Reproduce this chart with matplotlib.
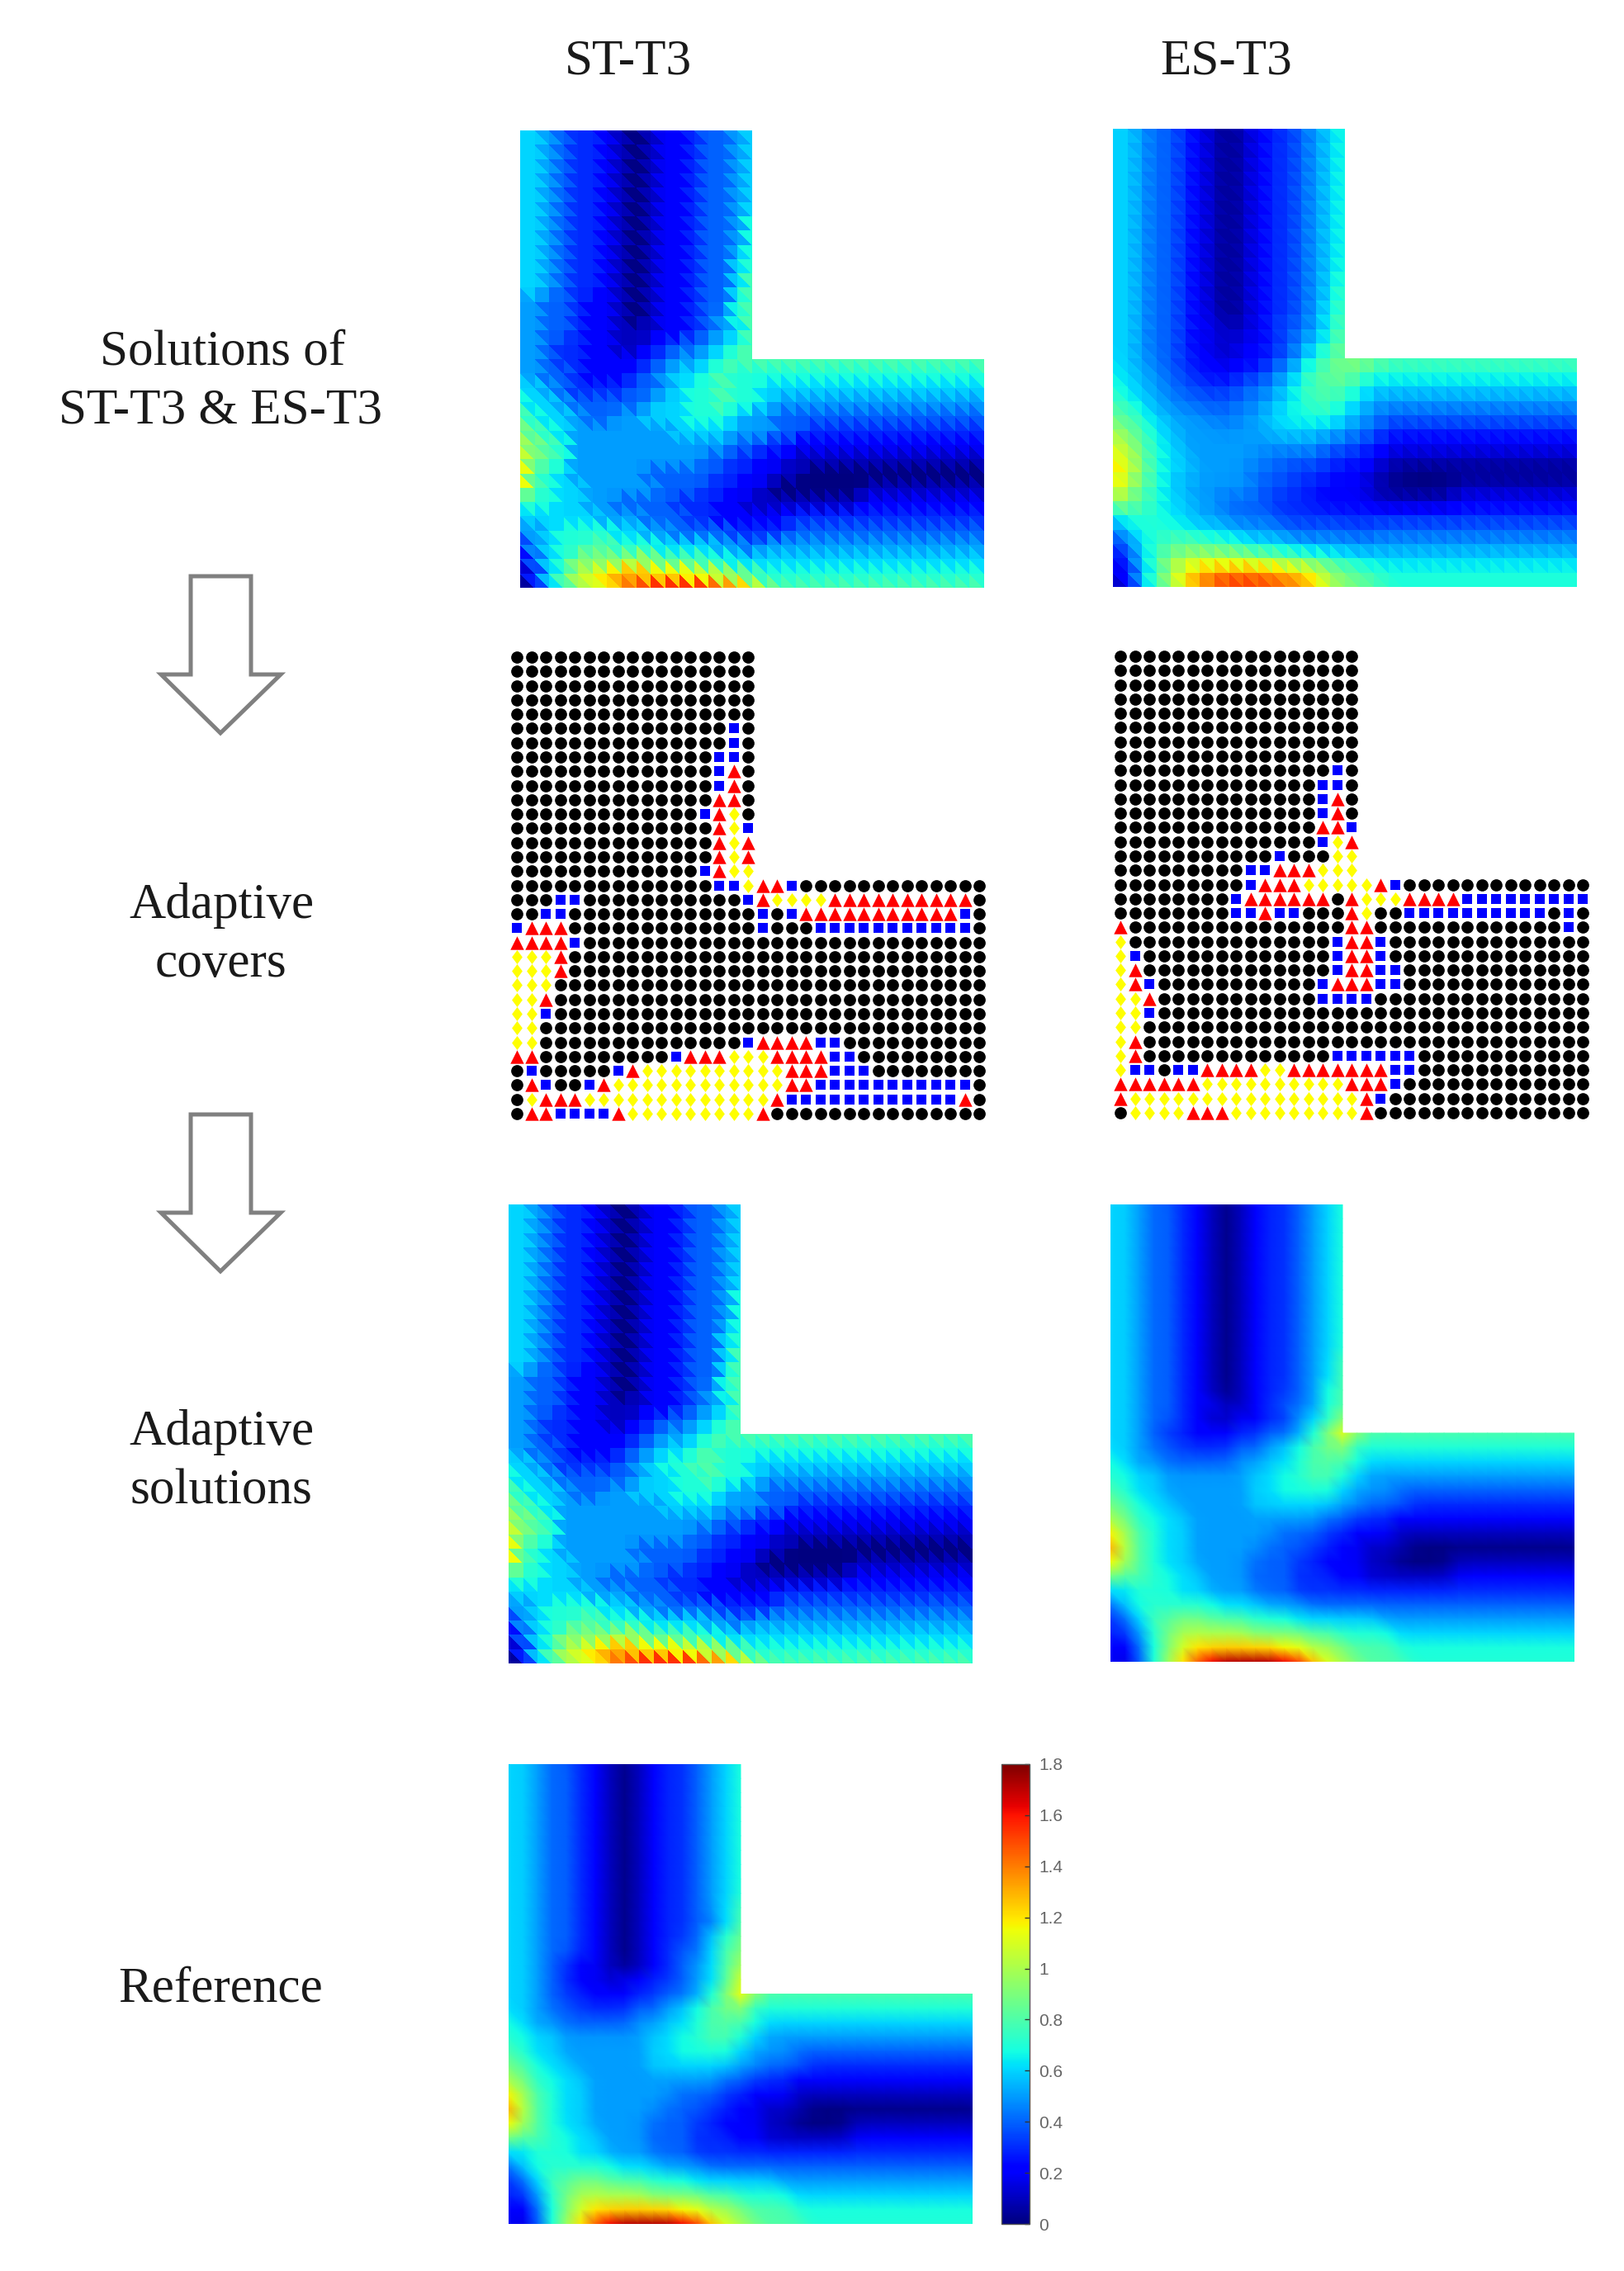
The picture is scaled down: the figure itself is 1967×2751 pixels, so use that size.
#!/usr/bin/env python3
"""L-shaped domain solutions: ST-T3 / ES-T3, adaptive covers and reference."""

import numpy as np
import matplotlib
matplotlib.use("Agg")
import matplotlib.pyplot as plt
from matplotlib.cm import ScalarMappable
from matplotlib.colors import Normalize
from matplotlib.patches import Polygon
from matplotlib.path import Path
from matplotlib.tri import Triangulation

# ---------------------------------------------------------------------
# Data: node values on the 33 x 33 L-shaped grid, row 0 is the top.
# One character per node, 0-9 = 0.0-0.9 and a-i = 1.0-1.8
# ---------------------------------------------------------------------
st_field = [
    "66543321012234456", "66543321012234456", "66543321012234456",
    "66543321012234456", "66543321012234456", "66543321012234456",
    "66543321012234457", "66543321012234457", "66543321012234457",
    "66543321012234467", "66543321012234468", "66543321012234468",
    "55443221012234478", "55443221012234578", "55443221112234568",
    "55433221123445678",
    "55433222234556788" + "8888888888888888",
    "55443222345667877" + "7777777777777777",
    "66543333445677877" + "6666666666666666",
    "76654444456677877" + "6555555555555555",
    "87665445566677765" + "5444444444444444",
    "98765555555666655" + "5443333333333333",
    "a9875555555555544" + "3322222222222222",
    "b9875555555554433" + "2211111111111111",
    "c8765555544444332" + "2110000000000000",
    "c8766555554443322" + "1000000111111111",
    "87766554444333221" + "1111111222222222",
    "66666655544433222" + "2233333333333333",
    "55677776655444433" + "3344444444444444",
    "35677887776666554" + "5555555555555555",
    "24679999a98887766" + "6666666666666666",
    "1368abcddcccbba98" + "7777777777777777",
    "0368abcefggggfedb" + "9888888888888888",
]

es_field = [
    "66544321012334567", "66544321012334567", "66544321012334567",
    "66544321012334567", "66544321012334567", "66544321012334567",
    "66544321012334567", "66544321012334567", "66544321012334567",
    "66544321012334567", "66544321012334567", "66544321012334568",
    "66544321012334568", "66544321012334578", "66544322112344578",
    "66544321122335679",
    "66544322122345789" + "a988888888888888",
    "76554332233457899" + "8777777777777777",
    "76654433344567888" + "7666666666666666",
    "87655444445567887" + "6555555555555555",
    "88765554455677776" + "5544444444444444",
    "a9866555555666665" + "5433333333333333",
    "ba876555555555544" + "3322222222222222",
    "cb976655555444433" + "3211111111111111",
    "db976655554443332" + "2110000000000000",
    "ca876555554433322" + "2100000111111111",
    "a9876655444333222" + "2111111222222222",
    "67776655444433333" + "3333333333333333",
    "46777766655544444" + "3444444444444444",
    "34678888776665555" + "5555555555555555",
    "23689aaaaa9988877" + "6666666666666666",
    "1267acdeeeeeddca9" + "8877777777777777",
    "0268acefgggffeca9" + "9877777777777777",
]

ref_field = [
    "66544321012334567", "66544321012334567", "66544321012334567",
    "66544321012334567", "66544321012334567", "66544321012334567",
    "66544321012334567", "66544321012334567", "66544321012334567",
    "66544321012334567", "66544321012334568", "66544321012334468",
    "66544321012334679", "66544321012344689", "6654322101234568a",
    "6654322122334568b",
    "6654332223344579d" + "9888888888888888",
    "66544333344567899" + "7777777777777777",
    "76554444455667888" + "7666666666666666",
    "77665555556677887" + "6555555555555555",
    "87665555556677776" + "5554444444444444",
    "98766555556666665" + "5444333333333333",
    "a9776655555555544" + "3332222222222222",
    "ca876655555544433" + "2221111111111111",
    "ea876655555444332" + "2111000000000000",
    "ca876655554443322" + "2110000111111111",
    "98877665554443332" + "2111111222222222",
    "66777665554443333" + "3333333333333333",
    "46777777666555444" + "4444444444444444",
    "34688998887776666" + "6655555555555555",
    "33579aaaaa9999887" + "7776666666666666",
    "22479bccccccbbaa9" + "8887777777777777",
    "2147acfhiiiihgdba" + "9888777777777777",
]

adapt_st_field = list(st_field)
adapt_st_field[18] = "66543333456778877" + "6666666666666666"

adapt_es_field = es_field[:16] + ref_field[16:]

# Node types of the adaptive covers: . regular, r, y, b
st_cover = [
    ".................", ".................", ".................",
    ".................", ".................", "...............b.",
    "...............b.", "..............bb.", "..............br.",
    "..............br.", "..............rr.", ".............bry.",
    "..............ryb", "..............ryr", "..............ryr",
    ".............bryy",
    "..............bbyrrb",
    "...bb...........bryyyyrrrrrrrrrr.",
    "..bb.............b.brrrrrrrrrrrb.",
    "brrr.............b...bbbbbbbbbbb.",
    "rrrrb", "yyyr", "yyyr", "yyy", "yyr", "yyb", "yy",
    "yy..............brrrrbb",
    "rr.........brrryyyrrrrbb",
    ".b.....bryyyyyyyyyyrrrbbb",
    ".rb..bryyyyyyyyyyyyrrbbbbbbbbbbb",
    ".yrrryyyyyyyyyyyyyrbbbbbbbbbbbbr",
    ".rrbbbbryyyyyyyyyr",
]

es_cover = [
    ".................", ".................", ".................",
    ".................", ".................", ".................",
    ".................", ".................", "...............b.",
    "..............bb.", "..............br.", "..............br.",
    "..............rrb", "..............byr", "...........b...yy",
    ".........bbrrryyy",
    ".........brrryyyyyrb",
    "........brrrrrr.ryyyrrrrbbbbbbbbb",
    "........bbrbb...ry..bbbbbbbbbb.b.",
    "r...............rr.............b.",
    "y..............brrb",
    "yb.............brrb",
    "yr.............brrbb",
    "yrb...........brrrbb",
    "yyr...........bbbb",
    "yyb", "yy", "yr",
    "yr.............bbbbbb",
    "ybb.bbrrrryyrrrrrrrbb",
    "rrrrrryyyyyyyyyyrrrb",
    "ryyyyyyyyyyyyyyyyrb",
    ".yyyyrrryyyyyyyyyr",
]

cbar_ticks = [0, 0.2, 0.4, 0.6, 0.8, 1, 1.2, 1.4, 1.6, 1.8]
cbar_labels = ["0", "0.2", "0.4", "0.6", "0.8", "1", "1.2", "1.4", "1.6", "1.8"]

# ---------------------------------------------------------------------
# Layout in pixels of the 1967 x 2751 figure
# ---------------------------------------------------------------------
W, H = 1967, 2751
N = 33
ARM = 16   # rows above the horizontal arm, also last column of the upper arm

# left, top, right, bottom of each panel
boxes = {
    "st": (630, 158, 1192, 712),
    "es": (1348, 156, 1910, 711),
    "cover_st": (626, 796, 1186, 1349),
    "cover_es": (1357, 795, 1917, 1348),
    "adapt_st": (616, 1459, 1178, 2015),
    "adapt_es": (1345, 1459, 1907, 2013),
    "ref": (616, 2137, 1178, 2694),
    "cbar": (1213, 2137, 1247, 2694),
}

plt.rcParams["font.family"] = ["Liberation Serif", "DejaVu Serif"]
fig = plt.figure(figsize=(W / 100, H / 100), dpi=100, facecolor="white")


def panel(key):
    l, t, r, b = boxes[key]
    return fig.add_axes([l / W, 1 - b / H, (r - l) / W, (b - t) / H])


def decode(ch):
    return int(ch, 19) / 10


def inside(row, col):
    return row >= ARM or col <= ARM


# shared triangulation, diagonal running from top-left to bottom-right
index = {}
xs, ys = [], []
for r in range(N):
    for c in range(N):
        if inside(r, c):
            index[(r, c)] = len(xs)
            xs.append(c)
            ys.append(r)
cells, face_nodes = [], []
for r in range(N - 1):
    for c in range(N - 1):
        if inside(r, c + 1):
            cells.append((index[(r, c)], index[(r + 1, c)], index[(r + 1, c + 1)]))
            face_nodes.append((r + 1, c))
            cells.append((index[(r, c)], index[(r, c + 1)], index[(r + 1, c + 1)]))
            face_nodes.append((r, c + 1))
tri = Triangulation(xs, ys, cells)


def soften(vals):
    # the values are read in 0.1 steps, take the steps out for the smooth panels
    out = np.zeros(len(vals))
    for k, (r, c) in enumerate(zip(ys, xs)):
        total, weight = 4 * vals[k], 4
        for nb in ((r - 1, c), (r + 1, c), (r, c - 1), (r, c + 1)):
            if nb in index:
                total += vals[index[nb]]
                weight += 1
        out[k] = total / weight
    return out


def draw_field(key, rows, shading):
    ax = panel(key)
    opts = dict(cmap="jet", vmin=0, vmax=1.8)
    vals = np.array([decode(rows[r][c]) for r, c in zip(ys, xs)])
    if shading == "cell":
        # triangle value leans on its free corner, which gives the saw-tooth look
        free = np.array([decode(rows[r][c]) for r, c in face_nodes])
        faces = 0.6 * free + 0.4 * vals[tri.triangles].mean(axis=1)
        ax.tripcolor(tri, facecolors=faces, **opts)
    else:
        ax.tripcolor(tri, soften(vals), shading=shading, **opts)
    ax.set_xlim(0, N - 1)
    ax.set_ylim(N - 1, 0)
    ax.axis("off")


thin_diamond = Path([(0, 1), (0.75, 0), (0, -1), (-0.75, 0), (0, 1)], closed=True)


def draw_cover(key, rows):
    ax = panel(key)
    pts = {".": ([], []), "r": ([], []), "y": ([], []), "b": ([], [])}
    for r, row in enumerate(rows):
        width = N if r >= ARM else ARM + 1
        for c, ch in enumerate(row.ljust(width, ".")):
            pts[ch][0].append(c)
            pts[ch][1].append(r)
    ax.scatter(*pts["."], s=112, c="black", marker="o", linewidths=0, clip_on=False)
    ax.scatter(*pts["b"], s=68, c="#0000ff", marker="s", linewidths=0, clip_on=False)
    ax.scatter(*pts["r"], s=140, c="#ff0000", marker="^", linewidths=0, clip_on=False)
    ax.scatter(*pts["y"], s=150, c="#ffff00", marker=thin_diamond, linewidths=0, clip_on=False)
    ax.set_xlim(0, N - 1)
    ax.set_ylim(N - 1, 0)
    ax.axis("off")


draw_field("st", st_field, "cell")
draw_field("es", es_field, "flat")
draw_cover("cover_st", st_cover)
draw_cover("cover_es", es_cover)
draw_field("adapt_st", adapt_st_field, "cell")
draw_field("adapt_es", adapt_es_field, "gouraud")
draw_field("ref", ref_field, "gouraud")

# colorbar
cax = panel("cbar")
cb = fig.colorbar(ScalarMappable(Normalize(0, 1.8), "jet"), cax=cax)
cb.set_ticks(cbar_ticks, labels=cbar_labels)
cb.ax.tick_params(direction="in", length=4, width=1, color="#333333",
                  labelcolor="#666666", labelsize=15, pad=8)
for lab in cb.ax.get_yticklabels():
    lab.set_family("Liberation Sans")
cb.outline.set_edgecolor("#555555")
cb.outline.set_linewidth(1)

# overlay for labels and arrows, in pixels
over = fig.add_axes([0, 0, 1, 1], facecolor="none")
over.set_xlim(0, W)
over.set_ylim(H, 0)
over.axis("off")

labels = [
    (761, 75, "ST-T3"), (1485, 75, "ES-T3"),
    (270, 427, "Solutions of"), (267, 498, "ST-T3 & ES-T3"),
    (268, 1097, "Adaptive"), (267, 1168, "covers"),
    (268, 1735, "Adaptive"), (268, 1807, "solutions"),
    (267, 2410, "Reference"),
]
for x, y, s in labels:
    over.text(x, y, s, ha="center", va="center", fontsize=44, color="#1a1a1a")

arrow = np.array([(231, 698), (304, 698), (304, 817), (340, 817),
                  (267, 888), (195, 817), (231, 817)], dtype=float)
for dy in (0, 652):
    over.add_patch(Polygon(arrow + [0, dy], closed=True, facecolor="white",
                           edgecolor="#808080", linewidth=3.6, joinstyle="miter"))

fig.savefig("out.png", dpi=100, facecolor="white")
print("Saved out.png")
